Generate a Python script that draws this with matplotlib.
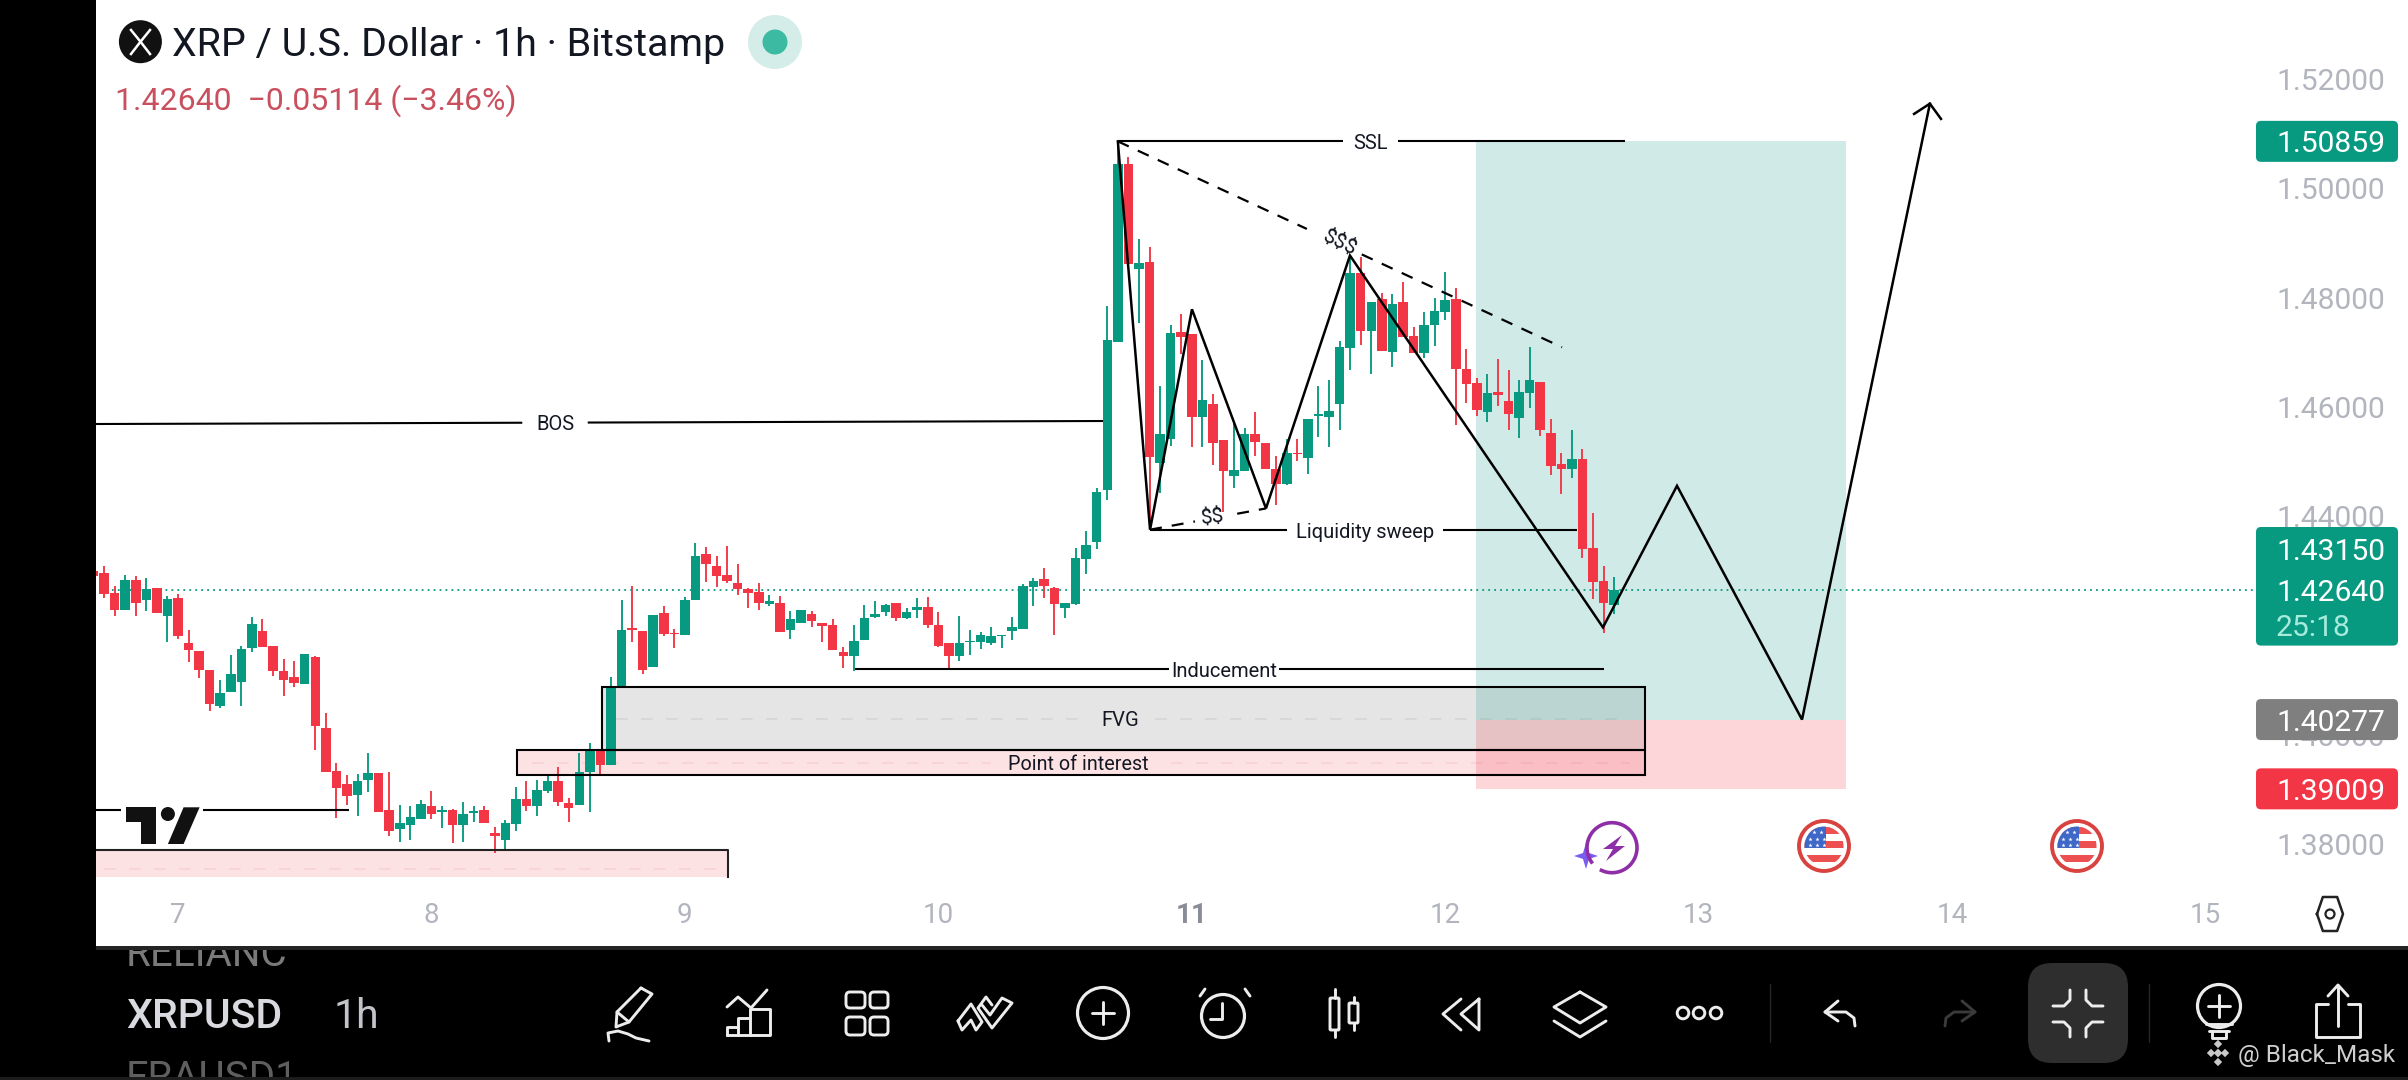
import numpy as np
import matplotlib
matplotlib.use("Agg")
import matplotlib.pyplot as plt
from matplotlib.patches import Rectangle, Circle, Polygon, FancyBboxPatch
from matplotlib.transforms import Bbox

plt.rcParams['font.family'] = ['Roboto', 'DejaVu Sans']

GREEN = '#089981'
RED = '#F23645'

hours = list(range(-8, 137))
opens = [1.4299,1.4296,1.4259,1.4228,1.4284,1.4247,1.4268,1.4217,1.4250,1.4168,1.4153,1.4119,1.4053,1.4078,1.4096,1.4158,1.4189,1.4163,1.4116,1.4106,
1.4093,1.4142,1.4013,1.3933,1.3909,1.3890,1.3918,1.3929,1.3862,1.3828,1.3835,1.3846,1.3869,1.3859,1.3862,1.3835,1.3856,1.3862,1.3821,1.3808,
1.3836,1.3882,1.3870,1.3897,1.3915,1.3875,1.3872,1.3932,1.3972,1.3944,1.4087,1.4195,1.4190,1.4123,1.4222,1.4186,1.4182,1.4246,1.4330,1.4309,
1.4292,1.4277,1.4267,1.4262,1.4239,1.4241,1.4191,1.4205,1.4221,1.4205,1.4201,1.4152,1.4144,1.4173,1.4215,1.4224,1.4241,1.4213,1.4229,1.4234,
1.4201,1.4168,1.4144,1.4169,1.4170,1.4167,1.4180,1.4189,1.4193,1.4271,1.4285,1.4268,1.4231,1.4240,1.4322,1.4352,1.4447,1.4719,1.5044,1.4852,
1.4865,1.4498,1.4541,1.4737,1.4734,1.4581,1.4606,1.4539,1.4474,1.4482,1.4551,1.4533,1.4486,1.4458,1.4515,1.4507,1.4584,1.4582,1.4606,1.4708,
1.4845,1.4738,1.4798,1.4701,1.4792,1.4730,1.4699,1.4750,1.4774,1.4797,1.4670,1.4643,1.4591,1.4628,1.4610,1.4580,1.4626,1.4646,1.4552,1.4496,
1.4486,1.4504,1.4342,1.4281,1.4237]
highs = [1.4344,1.4309,1.4273,1.4293,1.4291,1.4287,1.4268,1.4254,1.4257,1.4191,1.4153,1.4119,1.4101,1.4145,1.4162,1.4215,1.4212,1.4163,1.4138,1.4134,
1.4148,1.4144,1.4039,1.3949,1.3927,1.3928,1.3967,1.3929,1.3931,1.3871,1.3869,1.3880,1.3897,1.3869,1.3864,1.3876,1.3869,1.3869,1.3832,1.3843,
1.3905,1.3915,1.3918,1.3925,1.3940,1.3885,1.3967,1.3984,1.3972,1.4106,1.4247,1.4273,1.4190,1.4219,1.4236,1.4194,1.4252,1.4350,1.4343,1.4327,
1.4346,1.4313,1.4268,1.4277,1.4256,1.4254,1.4226,1.4228,1.4227,1.4205,1.4212,1.4161,1.4200,1.4237,1.4245,1.4240,1.4241,1.4232,1.4250,1.4252,
1.4225,1.4168,1.4218,1.4192,1.4188,1.4197,1.4183,1.4215,1.4276,1.4287,1.4305,1.4271,1.4241,1.4341,1.4372,1.4451,1.4784,1.5080,1.5057,1.4908,
1.4892,1.4638,1.4749,1.4770,1.4734,1.4686,1.4623,1.4539,1.4570,1.4562,1.4590,1.4533,1.4510,1.4541,1.4542,1.4577,1.4638,1.4650,1.4721,1.4874,
1.4874,1.4792,1.4809,1.4807,1.4829,1.4747,1.4773,1.4800,1.4847,1.4818,1.4705,1.4652,1.4661,1.4687,1.4667,1.4649,1.4710,1.4646,1.4577,1.4515,
1.4557,1.4523,1.4405,1.4309,1.4288]
lows = [1.4247,1.4250,1.4217,1.4228,1.4217,1.4226,1.4223,1.4169,1.4175,1.4133,1.4104,1.4043,1.4048,1.4078,1.4053,1.4151,1.4160,1.4107,1.4071,1.4088,
1.4093,1.3972,1.3932,1.3847,1.3871,1.3851,1.3896,1.3858,1.3815,1.3804,1.3808,1.3846,1.3846,1.3829,1.3801,1.3803,1.3841,1.3839,1.3784,1.3791,
1.3823,1.3861,1.3852,1.3893,1.3870,1.3841,1.3872,1.3858,1.3927,1.3944,1.4087,1.4169,1.4112,1.4123,1.4180,1.4158,1.4182,1.4246,1.4280,1.4271,
1.4277,1.4256,1.4231,1.4228,1.4235,1.4188,1.4175,1.4205,1.4197,1.4169,1.4155,1.4122,1.4117,1.4173,1.4213,1.4217,1.4208,1.4212,1.4213,1.4195,
1.4161,1.4121,1.4134,1.4145,1.4156,1.4164,1.4158,1.4174,1.4193,1.4236,1.4250,1.4183,1.4213,1.4237,1.4295,1.4339,1.4430,1.4719,1.4862,1.4753,
1.4375,1.4443,1.4528,1.4697,1.4526,1.4527,1.4494,1.4407,1.4452,1.4482,1.4510,1.4486,1.4420,1.4457,1.4500,1.4477,1.4544,1.4526,1.4558,1.4668,
1.4713,1.4660,1.4702,1.4673,1.4728,1.4699,1.4690,1.4712,1.4759,1.4566,1.4607,1.4584,1.4573,1.4601,1.4558,1.4543,1.4597,1.4546,1.4475,1.4441,
1.4469,1.4323,1.4248,1.4186,1.4220]
closes = [1.4291,1.4258,1.4228,1.4284,1.4241,1.4267,1.4223,1.4248,1.4180,1.4155,1.4118,1.4056,1.4077,1.4111,1.4157,1.4203,1.4160,1.4116,1.4100,1.4094,
1.4147,1.4016,1.3932,1.3903,1.3888,1.3916,1.3929,1.3858,1.3823,1.3839,1.3849,1.3873,1.3855,1.3862,1.3834,1.3854,1.3860,1.3839,1.3815,1.3839,
1.3882,1.3870,1.3898,1.3915,1.3877,1.3866,1.3931,1.3970,1.3944,1.4087,1.4192,1.4191,1.4119,1.4219,1.4185,1.4184,1.4247,1.4327,1.4313,1.4291,
1.4282,1.4267,1.4259,1.4241,1.4245,1.4188,1.4212,1.4228,1.4208,1.4199,1.4155,1.4144,1.4172,1.4214,1.4221,1.4237,1.4214,1.4224,1.4234,1.4200,
1.4163,1.4144,1.4168,1.4172,1.4183,1.4180,1.4183,1.4198,1.4273,1.4282,1.4273,1.4239,1.4241,1.4324,1.4347,1.4444,1.4723,1.5044,1.4862,1.4863,
1.4508,1.4551,1.4736,1.4728,1.4581,1.4612,1.4534,1.4482,1.4485,1.4551,1.4536,1.4486,1.4458,1.4516,1.4513,1.4577,1.4587,1.4592,1.4710,1.4845,
1.4738,1.4792,1.4702,1.4789,1.4728,1.4699,1.4750,1.4776,1.4796,1.4670,1.4641,1.4595,1.4625,1.4621,1.4587,1.4627,1.4650,1.4558,1.4491,1.4486,
1.4504,1.4340,1.4280,1.4241,1.4264]

day_ticks = [0, 24, 48, 72, 96, 120, 144, 168, 192]
day_labels = ['7', '8', '9', '10', '11', '12', '13', '14', '15']
price_ticks_shown = [1.38, 1.40, 1.44, 1.46, 1.48, 1.50, 1.52]

last_price = 1.42640
stop_price = 1.39009
target_price = 1.50859
entry_price = 1.40277
alert_price = 1.43150

zigzag_h = [89.0, 92.05, 96.02, 103.03, 110.98, 134.94, 141.95, 153.79, 165.9]
zigzag_p = [1.50859, 1.43752, 1.47785, 1.44141, 1.4877, 1.41964, 1.44555, 1.40277, 1.51549]

fig = plt.figure(figsize=(24.08, 10.8), dpi=100, facecolor='black')
ax = fig.add_axes([96/2408, (1080-946)/1080, 2312/2408, 946/1080], facecolor='white')
ax.set_xlim((96-178)/10.56, (2408-178)/10.56)
ax.set_ylim(1.36133, 1.53446)
for s in ax.spines.values():
    s.set_visible(False)

# axes ticks inside the pane
ax.set_xticks(day_ticks)
ax.set_xticklabels(day_labels, fontsize=20, color='#B2B5BE')
ax.xaxis.get_ticklabels()[4].set_color('#8A8D96')
ax.xaxis.get_ticklabels()[4].set_fontweight('bold')
ax.tick_params(axis='x', length=0, pad=-31.5)
ax.set_yticks(price_ticks_shown)
ax.set_yticklabels([f'{p:.5f}' for p in price_ticks_shown], fontsize=21.6, color='#B2B5BE')
ax.yaxis.tick_right()
ax.tick_params(axis='y', length=0, pad=-95)
for t in ax.yaxis.get_ticklabels():
    t.set_ha('left')

# zones
pos_l, pos_r = 122.9, 158.0
ax.add_patch(Rectangle((pos_l, entry_price), pos_r-pos_l, target_price-entry_price, fc=GREEN, alpha=0.19, ec='none', zorder=3))
ax.add_patch(Rectangle((pos_l, stop_price), pos_r-pos_l, entry_price-stop_price, fc=RED, alpha=0.2, ec='none', zorder=3))

fvg_top, fvg_bot, fvg_mid = 1.40874, 1.39724, 1.40290
poi_top, poi_bot, poi_mid = 1.39724, 1.39263, 1.39490
box_right = 138.9
ax.add_patch(Rectangle((40.13, fvg_bot), box_right-40.13, fvg_top-fvg_bot, fc='#808080', alpha=0.2, ec='none', zorder=2))
ax.add_patch(Rectangle((40.13, fvg_bot), box_right-40.13, fvg_top-fvg_bot, fc='none', ec='black', lw=1.5, zorder=6))
ax.plot([41.5, 86.0], [fvg_mid]*2, color='#D6D6D6', lw=1.2, ls=(0, (7, 8)), zorder=2.5)
ax.plot([92.5, 137.5], [fvg_mid]*2, color='#D6D6D6', lw=1.2, ls=(0, (7, 8)), zorder=2.5)
ax.add_patch(Rectangle((32.08, poi_bot), box_right-32.08, poi_top-poi_bot, fc=RED, alpha=0.14, ec='none', zorder=2))
ax.add_patch(Rectangle((32.08, poi_bot), box_right-32.08, poi_top-poi_bot, fc='none', ec='black', lw=1.5, zorder=6))
ax.plot([33.5, 77.0], [poi_mid]*2, color='#F7D2D5', lw=1.2, ls=(0, (7, 8)), zorder=2.5)
ax.plot([94.0, 137.5], [poi_mid]*2, color='#F7D2D5', lw=1.2, ls=(0, (7, 8)), zorder=2.5)

# lower-left zone, cut by the bottom of the price pane
low_top, low_bot, low_mid = 1.37894, 1.37401, 1.37547
ax.add_patch(Rectangle((-8, low_bot), 60.1, low_top-low_bot, fc=RED, alpha=0.14, ec='none', zorder=2))
ax.plot([-8, 52.1, 52.1], [low_top, low_top, low_bot], color='#222222', lw=1.5, zorder=6)
ax.plot([-7, 51], [low_mid]*2, color='#F7D2D5', lw=1.2, ls=(0, (7, 8)), zorder=2.5)

# last price line
ax.plot([-8, (2254-178)/10.56], [last_price]*2, color=GREEN, lw=1.3, ls=(0, (1, 2.3)), zorder=2.8)

# candles
hs = np.array(hours)
o, h, l, c = map(np.array, (opens, highs, lows, closes))
colors = np.where(c >= o, GREEN, RED)
ax.vlines(hs, l, h, colors=colors, lw=1.35, zorder=4)
for x_, o_, c_, col in zip(hs, o, c, colors):
    ax.bar(x_, abs(c_-o_), bottom=min(o_, c_), width=0.9, color=col, lw=0, zorder=4.5)

LINE = dict(color='black', lw=1.5, zorder=7, solid_capstyle='butt')
# (left level, right level, left, gap start, gap end, right, label)
level_lines = [
    (1.50859, 1.50859, 89.0, 110.3, 115.5, 137.0, 'SSL'),
    (1.45686, 1.45741, -8.0, 32.6, 38.8, 87.6, 'BOS'),
    (1.43743, 1.43743, 92.05, 105.0, 119.8, 132.5, 'Liquidity sweep'),
    (1.41197, 1.41197, 64.1, 93.8, 104.3, 135.0, 'Inducement'),
]
for lev_a, lev_b, a, g1, g2, b, name in level_lines:
    lev1 = np.interp(g1, [a, b], [lev_a, lev_b])
    lev2 = np.interp(g2, [a, b], [lev_a, lev_b])
    ax.plot([a, g1], [lev_a, lev1], **LINE)
    ax.plot([g2, b], [lev2, lev_b], **LINE)
    ax.text((g1+g2)/2, (lev1+lev2)/2, name, ha='center', va='center_baseline', fontsize=14.5, color='#131722', zorder=8)
ax.text(89.2, fvg_mid, 'FVG', ha='center', va='center_baseline', fontsize=14.5, color='#131722', zorder=8)
ax.text(85.3, poi_mid, 'Point of interest', ha='center', va='center_baseline', fontsize=14.2, color='#131722', zorder=8)

# short line cut by the logo
ax.plot([-8, -5.4], [1.3863]*2, **LINE)
ax.plot([2.4, 16.2], [1.3863]*2, **LINE)

# dashed trend lines
DASH = dict(color='black', lw=1.6, ls=(0, (5.4, 4.5)), zorder=7)
ax.plot([89.0, 106.9], [1.50859, 1.49256], **DASH)
ax.plot([112.1, 131.06], [1.4879, 1.47091], **DASH)
ax.plot([92.05, 96.3], [1.43752, 1.43903], **DASH)
ax.plot([100.3, 103.03], [1.44044, 1.44141], **DASH)
ax.text(110.0, 1.4899, '$$$', rotation=-26, ha='center', va='center', fontsize=15, color='#131722', zorder=8, parse_math=False)
ax.text(98.0, 1.43989, '$$', rotation=7, ha='center', va='center', fontsize=15, color='#131722', zorder=8, parse_math=False)

# zigzag with arrow head
ax.plot(zigzag_h, zigzag_p, color='black', lw=1.8, zorder=7, solid_joinstyle='miter')
head_h = [164.4, zigzag_h[-1], 166.95]
head_p = [1.51361, zigzag_p[-1], 1.5127]
ax.plot(head_h, head_p, color='black', lw=1.8, zorder=7)

# ---- overlay in screen pixels: price badges, header, toolbar ----
fig.canvas.draw()
ov = fig.add_axes([0, 0, 1, 1], facecolor='none', zorder=5)
ov.set_xlim(0, 2408)
ov.set_ylim(1080, 0)
ov.axis('off')


def p2y(p):
    return 1080 - ax.transData.transform((0, p))[1]


def badge(top, bottom, color):
    ov.add_patch(FancyBboxPatch((2256+4, top+4), 142-8, bottom-top-8,
                                boxstyle='round,pad=4,rounding_size=5', fc=color, ec='none'))


def label(p, s, color='white'):
    ov.text(2276, p2y(p), s, color=color, fontsize=21.6, ha='left', va='center_baseline')


badge(p2y(target_price)-20.5, p2y(target_price)+20.5, GREEN)
label(target_price, f'{target_price:.5f}')
badge(527, 645.6, GREEN)
ov.text(2276, 548.7, f'{alert_price:.5f}', color='white', fontsize=21.6, ha='left', va='center_baseline')
label(last_price, f'{last_price:.5f}')
ov.text(2276, 625, '25:18', color='#A6EBDC', fontsize=21.6, ha='left', va='center_baseline')
badge(p2y(entry_price)-20.5, p2y(entry_price)+20.5, '#7F7F7F')
label(entry_price, f'{entry_price:.5f}')
badge(p2y(stop_price)-20.5, p2y(stop_price)+20.5, RED)
label(stop_price, f'{stop_price:.5f}')

# header
ov.add_patch(Circle((140.4, 41.7), 21.5, fc='#111111', ec='none'))
ov.plot([131, 140.5, 150], [30, 41.7, 30], color='white', lw=1.8)
ov.plot([131, 140.5, 150], [54, 41.7, 54], color='white', lw=1.8)
ov.text(172, 42, 'XRP / U.S. Dollar · 1h · Bitstamp', fontsize=28.4, color='#131722', ha='left', va='center_baseline')
ov.add_patch(Circle((775, 42), 27, fc='#D5EDE8', ec='none'))
ov.add_patch(Circle((775, 42), 12.5, fc='#3DBAA2', ec='none'))
ov.text(115, 97, '1.42640  −0.05114 (−3.46%)', fontsize=23, color='#C9505E', ha='left', va='center_baseline')

# TradingView logo
ov.add_patch(Polygon([(125.7, 807.3), (156, 807.3), (156, 844), (140.7, 844), (140.7, 821.7), (125.7, 821.7)], fc='#111111', ec='none'))
ov.add_patch(Circle((167.9, 814), 7, fc='#111111', ec='none'))
ov.add_patch(Polygon([(183.6, 807.3), (199.6, 807.3), (183.6, 844), (167.9, 844)], fc='#111111', ec='none'))

# event icons
th = np.radians(np.linspace(-215, 115, 120))
ov.plot(1612+25*np.cos(th), 847.7+25*np.sin(th), color='#8E2FA8', lw=2.6)
ov.add_patch(Polygon([(1586, 843), (1589, 853), (1598, 856), (1589, 859), (1586, 869), (1583, 859), (1574, 856), (1583, 853)], fc='#7B5CF0', ec='none'))
ov.add_patch(Polygon([(1622, 835), (1603, 849), (1613, 849), (1606, 861), (1625, 846), (1615, 846)], fc='#8E2FA8', ec='none'))
for cx in (1824, 2077):
    ov.add_patch(Circle((cx, 846), 25, fc='white', ec='#D9433F', lw=2.8))
    clip = Circle((cx, 846), 19.5, transform=ov.transData)
    for y0 in (827, 841, 855):
        rr_ = Rectangle((cx-22, y0), 44, 7, fc='#EC5050', ec='none')
        ov.add_patch(rr_)
        rr_.set_clip_path(clip)
    can = Rectangle((cx-22, 826), 24, 22, fc='#3E67C8', ec='none')
    ov.add_patch(can)
    can.set_clip_path(clip)
    ov.scatter([cx-10, cx-3, cx-14, cx-7, cx, cx-14, cx-7, cx], [832, 832, 839, 839, 839, 845, 845, 845],
               s=10, marker='*', color='white', lw=0, zorder=3)

# hexagon settings icon
hx = 2330 + 13*np.array([-1, -0.55, 0.55, 1, 0.55, -0.55, -1])
hy = 914 + 17*np.array([0, -1, -1, 0, 1, 1, 0])
ov.plot(hx, hy, color='#222222', lw=1.8)
ov.add_patch(Circle((2330, 914), 4.5, fc='none', ec='#222222', lw=1.6))

# toolbar frame
ov.add_patch(Rectangle((96, 946), 2312, 4, fc='#242424', ec='none'))
ov.add_patch(Rectangle((0, 1077), 2408, 3, fc='#1C1C1C', ec='none'))

for txt, y_, col in (('RELIANC', 950, '#7A7A7A'), ('FRAUSD1', 1075, '#5F5F5F')):
    t = ov.text(126, y_, txt, fontsize=29, color=col, ha='left', va='center_baseline', clip_on=True)
    t.set_clip_box(Bbox([[96, 3], [289, 130]]))
ov.text(126, 1013, 'XRPUSD', fontsize=29.5, color='#D8DADF', ha='left', va='center_baseline', fontweight='medium')
ov.text(334, 1013, '1h', fontsize=29.5, color='#C2C4CA', ha='left', va='center_baseline')

W = dict(color='#EDEDED', lw=2.1, solid_capstyle='round', solid_joinstyle='round')


def pl(pts, **kw):
    a = np.array(pts)
    opts = dict(W)
    opts.update(kw)
    ov.plot(a[:, 0], a[:, 1], **opts)


def rr(x0, y0, x1, y1, r=4, ec='#EDEDED', fc='none', lw=2.1):
    ov.add_patch(FancyBboxPatch((x0+r, y0+r), x1-x0-2*r, y1-y0-2*r, boxstyle=f'round,pad={r},rounding_size={r}', fc=fc, ec=ec, lw=lw))


# pencil
pl([(641, 988), (652, 994), (629, 1022), (616, 1027), (617, 1012), (641, 988)])
pl([(617, 1012), (629, 1022)])
pl([(609, 1041), (608, 1033), (618, 1031), (628, 1034), (636, 1038), (649, 1041)])
# indicators
pl([(727, 1007), (738, 997), (751, 1008), (767, 990)])
pl([(727, 1035), (727, 1027), (738, 1027), (738, 1018), (750, 1018), (750, 1009), (770, 1009), (770, 1035), (727, 1035)])
pl([(738, 1027), (738, 1035)])
pl([(750, 1018), (750, 1035)])
# templates
for (x0, x1) in ((846, 865), (870, 888)):
    for (y0, y1) in ((992, 1008), (1017, 1035)):
        rr(x0, y0, x1, y1, r=4)
# compare
pl([(958, 1021), (971, 1004), (982, 1022), (976, 1030), (971, 1020), (962, 1030), (958, 1021)])
pl([(982, 1005), (990, 1015), (1002, 998), (1012, 1003), (992, 1028), (978, 1008), (986, 997), (992, 1005)])
# add
ov.add_patch(Circle((1103, 1013), 25.5, fc='none', ec='#EDEDED', lw=2.3))
pl([(1092, 1013), (1114, 1013)])
pl([(1103, 1002), (1103, 1024)])
# alert
ov.add_patch(Circle((1223, 1016), 21.5, fc='none', ec='#EDEDED', lw=2.3))
pl([(1222, 1003), (1222, 1019), (1210, 1019)])
pl([(1200, 996), (1205, 989)])
pl([(1245, 989), (1250, 996)])
# candles
rr(1330, 998, 1339, 1030, r=1)
pl([(1334.5, 989), (1334.5, 998)])
pl([(1334.5, 1030), (1334.5, 1037)])
rr(1349, 1003, 1358, 1023, r=1)
pl([(1353.5, 997), (1353.5, 1003)])
pl([(1353.5, 1023), (1353.5, 1030)])
# replay
pl([(1461, 999), (1443, 1014), (1461, 1030)])
pl([(1479, 999), (1461, 1014), (1479, 1030), (1479, 999)])
# layers
pl([(1580, 992), (1606, 1007), (1580, 1023), (1554, 1007), (1580, 992)])
pl([(1554, 1021), (1580, 1037), (1606, 1021)])
# more
for cx in (1683, 1699, 1716):
    ov.add_patch(Circle((cx, 1013), 5.8, fc='none', ec='#EDEDED', lw=2.1))
# separators
for x_ in (1770, 2149):
    pl([(x_, 984), (x_, 1042)], color='#262626', lw=1)
# undo / redo
pl([(1838, 1001), (1825, 1012), (1838, 1021)])
pl([(1825, 1012), (1846, 1012), (1854, 1018), (1855, 1026)])
pl([(1962, 1001), (1975, 1012), (1962, 1021)], color='#3A3A3A')
pl([(1975, 1012), (1954, 1012), (1946, 1018), (1945, 1026)], color='#3A3A3A')
# fullscreen
rr(2028, 963, 2128, 1063, r=24, fc='#2E2E2E', ec='none', lw=0)
pl([(2070, 990), (2070, 1000), (2064, 1006), (2053, 1006)])
pl([(2086, 990), (2086, 1000), (2092, 1006), (2103, 1006)])
pl([(2053, 1022), (2064, 1022), (2070, 1028), (2070, 1037)])
pl([(2103, 1022), (2092, 1022), (2086, 1028), (2086, 1037)])
# ideas
ov.add_patch(Circle((2219, 1006), 21.5, fc='none', ec='#EDEDED', lw=2.3))
pl([(2208, 1006), (2230, 1006)])
pl([(2219, 995), (2219, 1017)])
pl([(2206, 1024), (2232, 1024)])
pl([(2209, 1031), (2229, 1031)])
pl([(2212, 1031), (2212, 1038), (2226, 1038), (2226, 1031)])
# share
pl([(2338, 1026), (2338, 986)])
pl([(2328, 996), (2338, 985), (2348, 996)])
pl([(2328, 1004), (2316, 1004), (2316, 1037), (2360, 1037), (2360, 1004), (2348, 1004)])

# watermark
ov.scatter([2218, 2211, 2225, 2218, 2218], [1053, 1053, 1053, 1044, 1062], s=[20, 18, 18, 18, 18], marker='D', color='#C9C9C9', lw=0, zorder=6)
ov.text(2238, 1053, '@ Black_Mask', fontsize=17.5, color='#CFCFCF', ha='left', va='center_baseline', zorder=6)

fig.savefig('out.png', dpi=100, facecolor='black')
